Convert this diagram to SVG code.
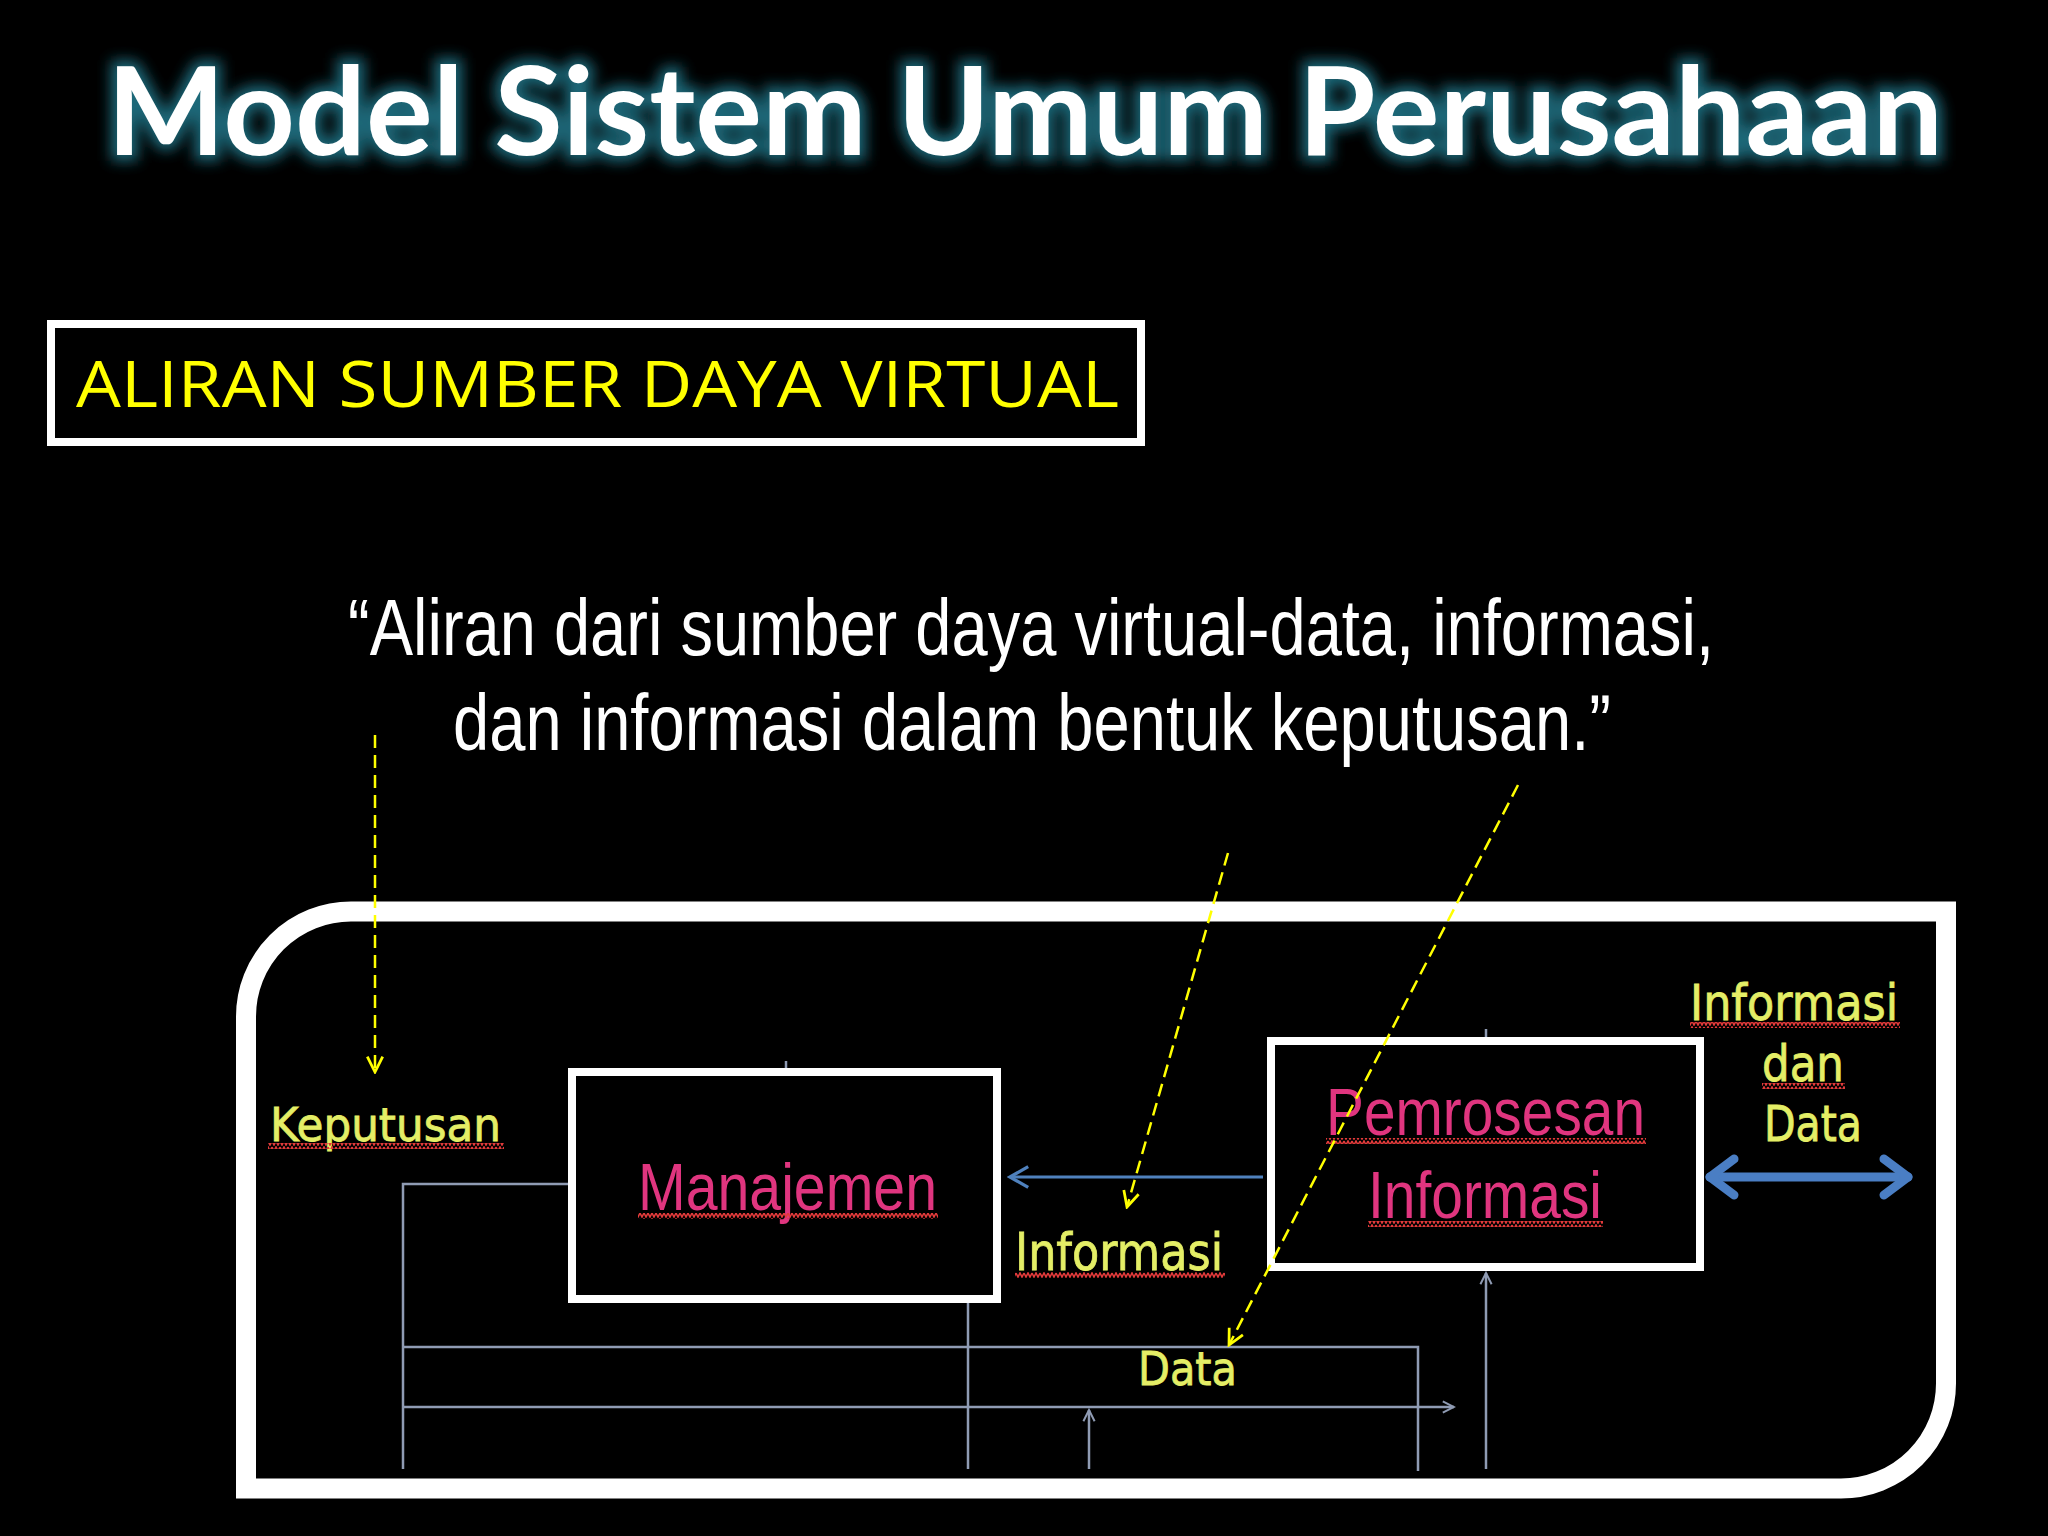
<svg xmlns="http://www.w3.org/2000/svg" width="2048" height="1536" viewBox="0 0 2048 1536">
<defs>
<filter id="blur" filterUnits="userSpaceOnUse" x="30" y="0" width="1990" height="230">
<feGaussianBlur stdDeviation="7"/>
</filter>
<pattern id="squig" width="8" height="6" patternUnits="userSpaceOnUse">
<path d="M0 1 L2 5 L4 1 L6 5 L8 1" fill="none" stroke="#e23a3a" stroke-width="1.6"/>
</pattern>
<marker id="ag" viewBox="0 0 20 20" refX="18" refY="10" markerWidth="16" markerHeight="16" markerUnits="userSpaceOnUse" orient="auto">
<path d="M4 3 L18 10 L4 17" fill="none" stroke="#8f9bb3" stroke-width="2.5"/>
</marker>
<marker id="ab" viewBox="0 0 20 20" refX="18" refY="10" markerWidth="26" markerHeight="26" markerUnits="userSpaceOnUse" orient="auto">
<path d="M4 2 L18 10 L4 18" fill="none" stroke="#4f81bd" stroke-width="2.5"/>
</marker>
<marker id="ay" viewBox="0 0 20 20" refX="18" refY="10" markerWidth="22" markerHeight="22" markerUnits="userSpaceOnUse" orient="auto">
<path d="M4 3 L18 10 L4 17" fill="none" stroke="#ffff00" stroke-width="2.5"/>
</marker>
<style>
.lbl{font-family:"DejaVu Sans",sans-serif;fill:#e4ee66;stroke:#e4ee66;stroke-width:0.8;}
.pink{font-family:"Liberation Sans",Arial,sans-serif;fill:#e0357f;}
.grey{fill:none;stroke:#8f9bb3;stroke-width:2.5;}
.dash{fill:none;stroke:#ffff00;stroke-width:2.5;stroke-dasharray:13 7;}
.box{fill:#000;stroke:#fff;stroke-width:8;}
.ttl{font-family:Lato,"Open Sans",sans-serif;font-weight:bold;font-size:122px;}
</style>
</defs>
<rect x="0" y="0" width="2048" height="1536" fill="#000"/>

<g id="title">
<text class="ttl" x="107" y="155" fill="#1b6878" stroke="#1b6878" stroke-width="12" textLength="1836" lengthAdjust="spacingAndGlyphs" filter="url(#blur)">Model Sistem Umum Perusahaan</text>
<text class="ttl" x="107" y="155" fill="#fff" textLength="1836" lengthAdjust="spacingAndGlyphs">Model Sistem Umum Perusahaan</text>
</g>

<g id="subtitle">
<rect x="51" y="324" width="1090" height="118" fill="#000" stroke="#fff" stroke-width="8"/>
<text x="76" y="407" font-family="'Open Sans','Noto Sans',sans-serif" font-size="64" fill="#ffff00" textLength="1043" lengthAdjust="spacingAndGlyphs">ALIRAN SUMBER DAYA VIRTUAL</text>
</g>

<g id="quote" font-family="'Liberation Sans',Arial,sans-serif" font-size="80" fill="#fff">
<text x="348" y="655" textLength="1366" lengthAdjust="spacingAndGlyphs">“Aliran dari sumber daya virtual-data, informasi,</text>
<text x="453" y="750" textLength="1158" lengthAdjust="spacingAndGlyphs">dan informasi dalam bentuk keputusan.”</text>
</g>

<g id="frame">
<path d="M246 1488.5 L246 1016.5 A105 105 0 0 1 351 911.5 L1946 911.5 L1946 1383.5 A105 105 0 0 1 1841 1488.5 Z" fill="#000" stroke="#fff" stroke-width="20"/>
</g>

<g id="connectors">
<polyline class="grey" points="568,1184 403,1184 403,1469"/>
<polyline class="grey" points="403,1347 1418,1347 1418,1471"/>
<line class="grey" x1="403" y1="1407" x2="1454" y2="1407" marker-end="url(#ag)"/>
<line class="grey" x1="968" y1="1303" x2="968" y2="1469"/>
<line class="grey" x1="1089" y1="1469" x2="1089" y2="1410" marker-end="url(#ag)"/>
<line class="grey" x1="1486" y1="1469" x2="1486" y2="1273" marker-end="url(#ag)"/>
<line class="grey" x1="786" y1="1061" x2="786" y2="1068"/>
<line class="grey" x1="1486" y1="1029" x2="1486" y2="1037"/>
<line x1="1263" y1="1177" x2="1010" y2="1177" stroke="#4f81bd" stroke-width="3" marker-end="url(#ab)"/>
<g fill="none" stroke="#4a7ec4" stroke-width="9" stroke-linecap="round" stroke-linejoin="round">
<line x1="1710" y1="1177" x2="1908" y2="1177"/>
<polyline points="1734,1159 1710,1177 1734,1195"/>
<polyline points="1884,1159 1908,1177 1884,1195"/>
</g>
</g>

<g id="manajemen">
<rect class="box" x="572" y="1072" width="425" height="227"/>
<text class="pink" x="638" y="1210" font-size="67" textLength="299" lengthAdjust="spacingAndGlyphs">Manajemen</text>
<rect x="638" y="1213" width="300" height="6" fill="url(#squig)"/>
</g>

<g id="pemrosesan">
<rect class="box" x="1271" y="1041" width="429" height="226"/>
<text class="pink" x="1326" y="1135" font-size="67" textLength="319" lengthAdjust="spacingAndGlyphs">Pemrosesan</text>
<rect x="1326" y="1138" width="320" height="6" fill="url(#squig)"/>
<text class="pink" x="1368" y="1218" font-size="67" textLength="234" lengthAdjust="spacingAndGlyphs">Informasi</text>
<rect x="1368" y="1221" width="235" height="6" fill="url(#squig)"/>
</g>

<g id="label-keputusan">
<text class="lbl" x="270" y="1141" font-size="46" textLength="231" lengthAdjust="spacingAndGlyphs">Keputusan</text>
<rect x="268" y="1143" width="236" height="6" fill="url(#squig)"/>
</g>

<g id="label-informasi">
<text class="lbl" x="1015" y="1270" font-size="52" textLength="208" lengthAdjust="spacingAndGlyphs">Informasi</text>
<rect x="1015" y="1272" width="210" height="6" fill="url(#squig)"/>
</g>

<g id="label-data">
<text class="lbl" x="1138" y="1385" font-size="47" textLength="99" lengthAdjust="spacingAndGlyphs">Data</text>
</g>

<g id="label-infodandata">
<text class="lbl" x="1690" y="1020" font-size="49" textLength="208" lengthAdjust="spacingAndGlyphs">Informasi</text>
<rect x="1690" y="1022" width="210" height="6" fill="url(#squig)"/>
<text class="lbl" x="1762" y="1081" font-size="49" textLength="82" lengthAdjust="spacingAndGlyphs">dan</text>
<rect x="1762" y="1083" width="83" height="6" fill="url(#squig)"/>
<text class="lbl" x="1764" y="1141" font-size="49" textLength="98" lengthAdjust="spacingAndGlyphs">Data</text>
</g>

<g id="pointers">
<line class="dash" x1="375" y1="735" x2="375" y2="1072" marker-end="url(#ay)"/>
<line class="dash" x1="1228" y1="853" x2="1127" y2="1207" marker-end="url(#ay)"/>
<line class="dash" x1="1518" y1="785" x2="1229" y2="1345" marker-end="url(#ay)"/>
</g>
</svg>
